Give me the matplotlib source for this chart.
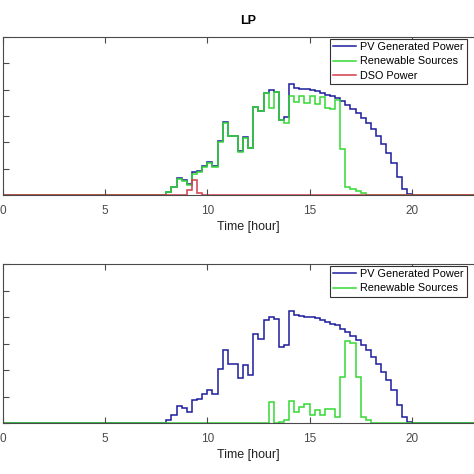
import matplotlib
matplotlib.use('Agg')
import matplotlib.pyplot as plt
import numpy as np

plt.rcParams['font.family'] = ['Liberation Sans', 'DejaVu Sans']

# Datos: pasos de 15 minutos durante el día (0..24 h)
step = 0.25
edges = np.arange(0, 24 + step, step)

# PV generado, de 8:00 a 20:00 (48 valores)
pv_day = [0.10, 0.29, 0.63, 0.57,
          0.42, 0.88, 0.92, 1.11,
          1.26, 1.11, 2.05, 2.77,
          2.24, 2.24, 1.68, 2.20,
          1.80, 3.35, 3.18, 3.88,
          4.00, 3.91, 2.85, 2.96,
          4.21, 4.06, 4.04, 4.01,
          3.99, 3.96, 3.89, 3.81,
          3.75, 3.69, 3.56, 3.43,
          3.28, 3.12, 2.93, 2.74,
          2.49, 2.24, 1.92, 1.61,
          1.23, 0.67, 0.23, 0.04]

# Renovables (LP, panel superior), de 8:00 a 18:00 (40 valores)
ren_top_day = [0.10, 0.29, 0.60, 0.53,
               0.38, 0.80, 0.89, 1.05,
               1.23, 1.05, 2.03, 2.75,
               2.24, 2.24, 1.65, 2.18,
               1.77, 3.36, 3.19, 3.87,
               3.30, 3.90, 2.83, 2.75,
               3.75, 3.55, 3.76, 3.49,
               3.76, 3.46, 3.74, 3.30,
               3.26, 3.59, 1.74, 0.32,
               0.24, 0.16, 0.09, 0.00]

# DSO (panel superior), de 9:00 a 10:00
dso_day = [0.20, 0.58, 0.06, 0.00]

# Renovables (panel inferior), de 13:00 a 18:00 (20 valores)
ren_bot_day = [0.80, 0.00, 0.03, 0.12,
               0.83, 0.42, 0.60, 0.73,
               0.29, 0.48, 0.29, 0.54,
               0.52, 0.23, 1.74, 3.08,
               3.03, 1.74, 0.23, 0.10]


def full_day(vals, start_hour):
    arr = np.zeros(len(edges) - 1)
    i0 = int(round(start_hour / step))
    arr[i0:i0 + len(vals)] = vals
    return arr


pv = full_day(pv_day, 8)
ren_top = full_day(ren_top_day, 8)
dso = full_day(dso_day, 9)
ren_bot = full_day(ren_bot_day, 13)

c_pv = '#1c1c9e'
c_ren = '#33d933'
c_dso = '#d43a4a'
c_ax = '#4a4a4a'

fig = plt.figure(figsize=(4.74, 4.74), dpi=100)
ax1 = fig.add_axes([2.7 / 474, 1 - 195 / 474, 491 / 474, 158 / 474])
ax2 = fig.add_axes([2.7 / 474, 1 - 423 / 474, 491 / 474, 159 / 474])

lw = 1.1
ax1.stairs(pv, edges, baseline=None, color=c_pv, lw=lw, label='PV Generated Power')
ax1.stairs(ren_top, edges, baseline=None, color=c_ren, lw=lw, label='Renewable Sources')
ax1.stairs(dso, edges, baseline=None, color=c_dso, lw=lw, label='DSO Power')

ax2.stairs(pv, edges, baseline=None, color=c_pv, lw=lw, label='PV Generated Power')
ax2.stairs(ren_bot, edges, baseline=None, color=c_ren, lw=lw, label='Renewable Sources')

ax1.set_title('LP', fontsize=9, fontweight='bold', pad=9)

for ax in (ax1, ax2):
    ax.set_xlim(0, 24)
    ax.set_ylim(0, 6)
    ax.set_xticks([0, 5, 10, 15, 20])
    ax.set_yticks(np.arange(0, 7, 1))
    # las etiquetas del eje y quedan fuera del recorte (borde izquierdo)
    ax.tick_params(direction='in', top=True, right=True, length=4, width=0.8,
                   colors=c_ax, labelsize=8.5, pad=7)
    for s in ax.spines.values():
        s.set_color(c_ax)
        s.set_linewidth(0.8)
    ax.set_xlabel('Time [hour]', fontsize=9, color='#222222', labelpad=3)
    leg = ax.legend(loc='upper left', bbox_to_anchor=(0.6666, 0.988), borderaxespad=0,
                    fontsize=7.8, frameon=True, fancybox=False, framealpha=1,
                    handlelength=2.1, handletextpad=0.35, borderpad=0.3,
                    labelspacing=0.4)
    leg.get_frame().set_edgecolor('#333333')
    leg.get_frame().set_linewidth(0.8)

fig.savefig('out.png', dpi=100)
